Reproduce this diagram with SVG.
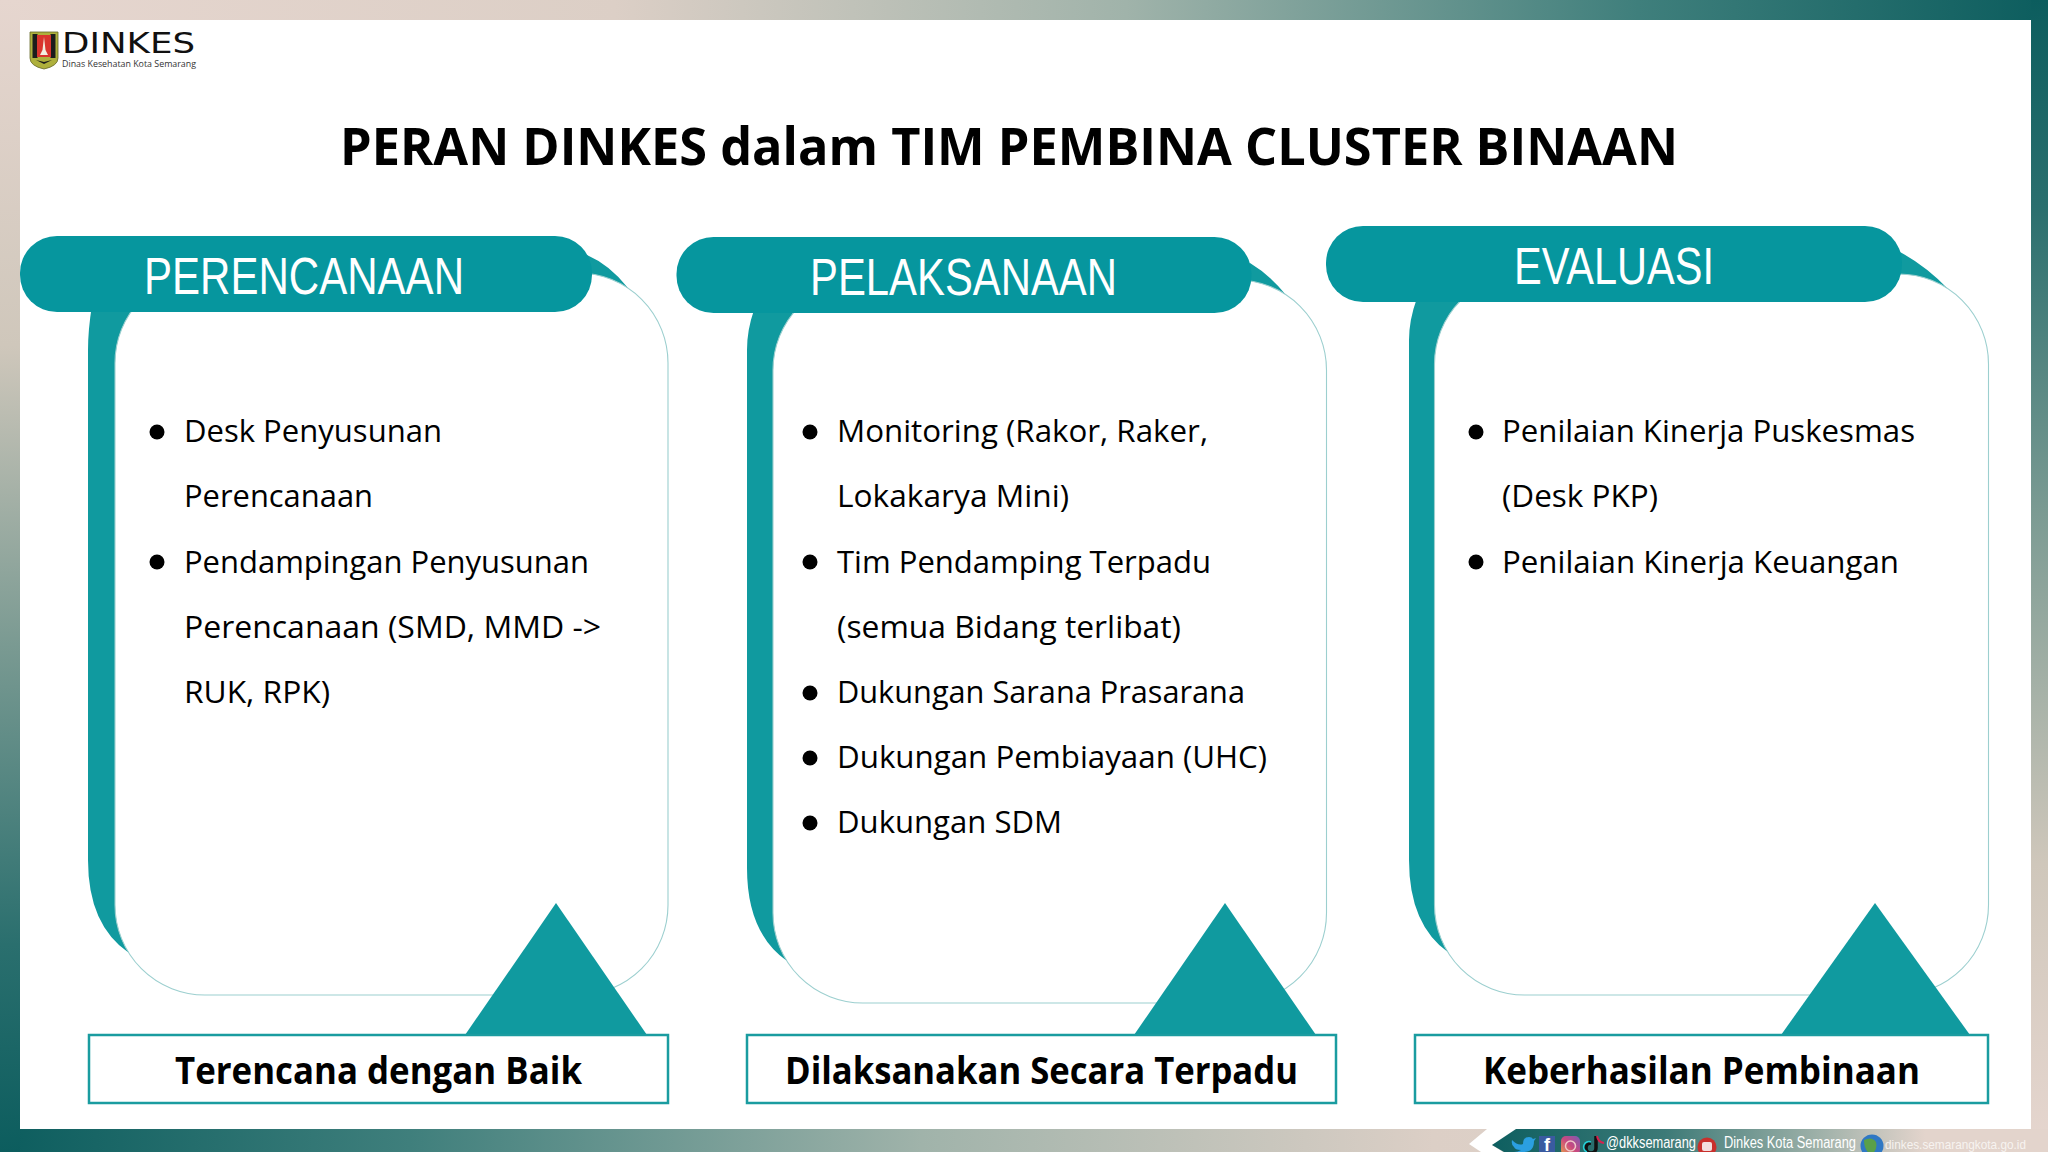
<svg xmlns="http://www.w3.org/2000/svg" width="2048" height="1152" viewBox="0 0 2048 1152">
<defs>
<linearGradient id="gp" x1="0" x2="1" y1="0" y2="0"><stop offset="0" stop-color="#e6d6cf"/><stop offset=".3" stop-color="#dccfc6"/><stop offset=".55" stop-color="#a0b3aa"/><stop offset=".8" stop-color="#3f7f7c"/><stop offset="1" stop-color="#0c5d5e"/></linearGradient>
<linearGradient id="gb" x1="0" x2="1" y1="0" y2="0"><stop offset="0" stop-color="#0c5d5e"/><stop offset=".2" stop-color="#3f7f7c"/><stop offset=".45" stop-color="#a0b3aa"/><stop offset=".7" stop-color="#dccfc6"/><stop offset="1" stop-color="#e6d6cf"/></linearGradient>
<linearGradient id="gl" x1="0" x2="0" y1="0" y2="1"><stop offset="0" stop-color="#e6d6cf"/><stop offset=".3" stop-color="#cfc7bb"/><stop offset=".56" stop-color="#7a9a92"/><stop offset=".82" stop-color="#2a6f6e"/><stop offset="1" stop-color="#0c5d5e"/></linearGradient>
<linearGradient id="gr" x1="0" x2="0" y1="0" y2="1"><stop offset="0" stop-color="#0c5d5e"/><stop offset=".18" stop-color="#2a6f6e"/><stop offset=".44" stop-color="#7a9a92"/><stop offset=".75" stop-color="#cfc7bb"/><stop offset="1" stop-color="#e6d6cf"/></linearGradient>
<linearGradient id="gf" gradientUnits="userSpaceOnUse" x1="1492" x2="1925" y1="0" y2="0"><stop offset="0" stop-color="#0e5f60"/><stop offset=".4" stop-color="#3d7a77"/><stop offset=".75" stop-color="#9db0a8"/><stop offset="1" stop-color="#e3d4cc"/></linearGradient>
<linearGradient id="gi" x1="0" x2="1" y1="1" y2="0"><stop offset="0" stop-color="#e8a04c"/><stop offset=".5" stop-color="#c9487f"/><stop offset="1" stop-color="#7a5bb5"/></linearGradient>
</defs>
<style>
.t{font-family:"Open Sans","Noto Sans",sans-serif;fill:#000}
.b{font-size:31px}
.h{font-family:"Liberation Sans",Arial,sans-serif;fill:#fff;font-size:51px}
.s{font-family:"Open Sans","Noto Sans",sans-serif;font-weight:700;font-size:37px;fill:#000}
.p{fill:#06969e}.k{fill:#109a9f}
.c{fill:#fff;stroke:#9ccfcf;stroke-width:1.1}
.x{fill:#fff;stroke:#1a9ca0;stroke-width:2.5}
.f{font-family:"Liberation Sans",Arial,sans-serif;fill:#fff;font-size:16px}
</style>
<rect width="2048" height="1152" fill="#fff"/>
<rect width="2048" height="20" fill="url(#gp)"/>
<rect y="1129" width="2048" height="23" fill="url(#gb)"/>
<rect width="20" height="1152" fill="url(#gl)"/>
<rect x="2031" width="17" height="1152" fill="url(#gr)"/>
<g id="logo">
<path d="M30 32H58V58Q58 66 44 69Q30 66 30 58Z" fill="#aeb03c" stroke="#66682a" stroke-width=".8"/>
<rect x="32.500" y="34" width="5" height="24" fill="#1c1c1c"/>
<rect x="50.500" y="34" width="5" height="24" fill="#1c1c1c"/>
<rect x="37" y="35" width="14" height="22" fill="#d9352e"/>
<path d="M44 37L45.500 50L48 55H40L42.500 50Z" fill="#f3efe0"/>
<path d="M36 60L44 64L52 60L44 62Z" fill="#1c1c1c"/>
<text x="62" y="53" font-family="DejaVu Sans,sans-serif" font-size="29" textLength="133" lengthAdjust="spacingAndGlyphs" fill="#111">DINKES</text>
<text x="62" y="67" font-family="Open Sans,sans-serif" font-size="9.5" textLength="134" lengthAdjust="spacingAndGlyphs" fill="#333">Dinas Kesehatan Kota Semarang</text>
</g>
<text id="title" x="340" y="165" class="t" font-weight="700" font-size="52" textLength="1338" lengthAdjust="spacingAndGlyphs">PERAN DINKES dalam TIM PEMBINA CLUSTER BINAAN</text>

<g id="col1">
<path class="k" d="M100 300H560L587 255Q610 265 628 288L640 400L300 900L129 953Q88 925 88 860V350Q88 330 92 305Z"/>
<rect class="c" x="115" y="273" width="553" height="722" rx="90"/>
<rect class="p" x="20" y="236" width="572" height="76" rx="37"/>
<text class="h" x="144" y="293.500" textLength="320" lengthAdjust="spacingAndGlyphs">PERENCANAAN</text>
<g class="t b">
<circle cx="157" cy="432" r="7.500"/><text x="184" y="442" textLength="258" lengthAdjust="spacingAndGlyphs">Desk Penyusunan</text>
<text x="184" y="507" textLength="189" lengthAdjust="spacingAndGlyphs">Perencanaan</text>
<circle cx="157" cy="562" r="7.500"/><text x="184" y="572.500" textLength="405" lengthAdjust="spacingAndGlyphs">Pendampingan Penyusunan</text>
<text x="184" y="638" textLength="417" lengthAdjust="spacingAndGlyphs">Perencanaan (SMD, MMD -&gt;</text>
<text x="184" y="703" textLength="146" lengthAdjust="spacingAndGlyphs">RUK, RPK)</text>
</g>
<path class="k" d="M556 903L647 1035H465Z"/>
<rect class="x" x="89" y="1035" width="579" height="68"/>
<text class="s" x="175" y="1084" textLength="407" lengthAdjust="spacingAndGlyphs">Terencana dengan Baik</text>
</g>

<g id="col2">
<path class="k" d="M760 305H1200L1250 263Q1270 275 1286 295L1300 400L960 900L787 961Q747 933 747 868V350Q747 330 754 310Z"/>
<rect class="c" x="773" y="280" width="553.500" height="723" rx="90"/>
<rect class="p" x="676.500" y="237" width="575" height="76" rx="37"/>
<text class="h" x="810" y="294.500" textLength="307" lengthAdjust="spacingAndGlyphs">PELAKSANAAN</text>
<g class="t b">
<circle cx="810" cy="432" r="7.500"/><text x="837" y="442" textLength="371" lengthAdjust="spacingAndGlyphs">Monitoring (Rakor, Raker,</text>
<text x="837" y="507" textLength="232" lengthAdjust="spacingAndGlyphs">Lokakarya Mini)</text>
<circle cx="810" cy="562" r="7.500"/><text x="837" y="572.500" textLength="374" lengthAdjust="spacingAndGlyphs">Tim Pendamping Terpadu</text>
<text x="837" y="638" textLength="344" lengthAdjust="spacingAndGlyphs">(semua Bidang terlibat)</text>
<circle cx="810" cy="693" r="7.500"/><text x="837" y="703" textLength="408" lengthAdjust="spacingAndGlyphs">Dukungan Sarana Prasarana</text>
<circle cx="810" cy="758" r="7.500"/><text x="837" y="768" textLength="430" lengthAdjust="spacingAndGlyphs">Dukungan Pembiayaan (UHC)</text>
<circle cx="810" cy="823" r="7.500"/><text x="837" y="833" textLength="225" lengthAdjust="spacingAndGlyphs">Dukungan SDM</text>
</g>
<path class="k" d="M1225 903L1316 1035H1134Z"/>
<rect class="x" x="747" y="1035" width="589" height="68"/>
<text class="s" x="785" y="1084" textLength="513" lengthAdjust="spacingAndGlyphs">Dilaksanakan Secara Terpadu</text>
</g>

<g id="col3">
<path class="k" d="M1420 290H1850L1900 252Q1926 266 1948 289L1960 400L1620 900L1449 953Q1409 925 1409 860V340Q1409 320 1417 298Z"/>
<rect class="c" x="1434.500" y="274" width="554" height="721" rx="90"/>
<rect class="p" x="1326" y="226" width="576" height="76" rx="37"/>
<text class="h" x="1514" y="283.500" textLength="200" lengthAdjust="spacingAndGlyphs">EVALUASI</text>
<g class="t b">
<circle cx="1476" cy="432" r="7.500"/><text x="1502" y="442" textLength="413" lengthAdjust="spacingAndGlyphs">Penilaian Kinerja Puskesmas</text>
<text x="1502" y="507" textLength="156" lengthAdjust="spacingAndGlyphs">(Desk PKP)</text>
<circle cx="1476" cy="562" r="7.500"/><text x="1502" y="572.500" textLength="397" lengthAdjust="spacingAndGlyphs">Penilaian Kinerja Keuangan</text>
</g>
<path class="k" d="M1875 903L1970 1035H1781Z"/>
<rect class="x" x="1415" y="1035" width="573" height="68"/>
<text class="s" x="1483" y="1084" textLength="437" lengthAdjust="spacingAndGlyphs">Keberhasilan Pembinaan</text>
</g>

<g id="footer">
<path d="M1469 1144L1487 1129H1520L1492 1145L1503 1152H1481Z" fill="#fff"/>
<path d="M1492 1145L1516 1129H2048V1152H1504Z" fill="url(#gf)"/>
<path d="M1512 1140Q1518 1146 1523 1144Q1523 1137 1529 1137Q1532 1137 1533 1139L1536 1138L1534 1141Q1534 1152 1524 1152H1514Q1518 1152 1521 1150Q1515 1150 1514 1147Q1511 1145 1512 1140Z" fill="#2b9fe0"/>
<rect x="1539" y="1136" width="16" height="16" fill="#3a5ba0"/>
<text x="1544" y="1151" font-family="Liberation Sans,sans-serif" font-weight="700" font-size="18" fill="#fff">f</text>
<rect x="1561" y="1136" width="19" height="19" rx="5" fill="url(#gi)"/>
<circle cx="1570.500" cy="1146" r="5" fill="none" stroke="#f0c8c8" stroke-width="1.500"/>
<path d="M1596 1136V1148A5 5 0 1 1 1591 1143" fill="none" stroke="#111" stroke-width="3.500"/>
<path d="M1597 1136Q1598 1142 1604 1143" fill="none" stroke="#d6204f" stroke-width="2"/>
<path d="M1587 1152A5 5 0 0 1 1591 1142" fill="none" stroke="#25d0d8" stroke-width="1.500"/>
<text class="f" x="1606" y="1148" textLength="90" lengthAdjust="spacingAndGlyphs">@dkksemarang</text>
<circle cx="1707" cy="1147" r="9.500" fill="#c9302c"/>
<rect x="1702" y="1142" width="10" height="9" rx="2" fill="#f3dede"/>
<text class="f" x="1724" y="1148" textLength="132" lengthAdjust="spacingAndGlyphs">Dinkes Kota Semarang</text>
<circle cx="1872" cy="1146" r="11.500" fill="#2f78c4"/>
<path d="M1864 1140Q1872 1136 1876 1142Q1878 1150 1871 1155Q1864 1150 1864 1140Z" fill="#5aa04a"/>
<text class="f" x="1885" y="1149" textLength="141" lengthAdjust="spacingAndGlyphs" style="fill:#f7f3f0;font-size:13.500px">dinkes.semarangkota.go.id</text>
</g>
</svg>
